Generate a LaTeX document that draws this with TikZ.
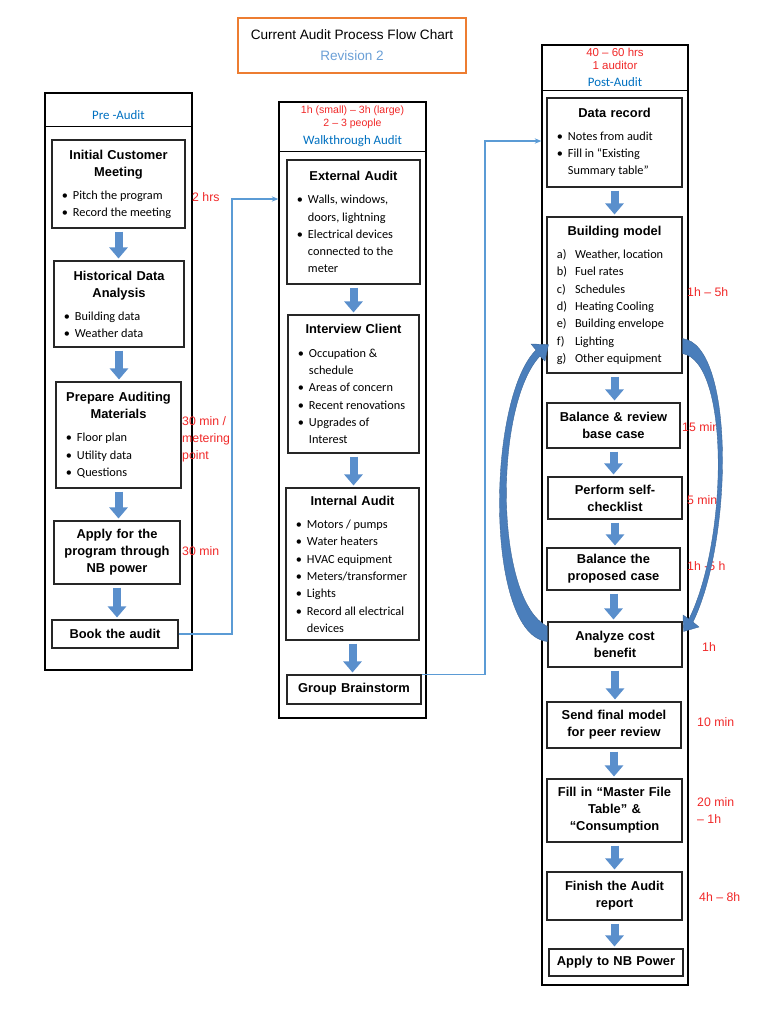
\documentclass[tikz,border=0pt]{standalone}
\usepackage{fontspec}
\setmainfont{Liberation Sans}
\newfontfamily\calib{Carlito}
\usepackage{xcolor}
\definecolor{colorTime}{HTML}{F02828}
\definecolor{colorPhase}{HTML}{0070C0}
\definecolor{colorRev}{HTML}{6A9FD6}
\definecolor{colorLink}{HTML}{5B9BD5}
\definecolor{colorBlock}{HTML}{5A8FCC}
\definecolor{colorLoop}{HTML}{4A7EBB}
\definecolor{colorTitle}{HTML}{ED7D31}
\usetikzlibrary{arrows.meta, calc}
\newcommand{\hd}[1]{{\centering\fontsize{11}{14.5}\selectfont\bfseries #1\par}}
\newcommand{\lst}{\vspace{5pt}\calib\fontsize{10.5}{14.8}\selectfont\spaceskip=\fontdimen2\font\relax\rightskip=0pt plus 1fil\relax}
\newcommand{\bul}{\makebox[14.5pt][l]{\hspace{5pt}\textbullet}}
\newcommand{\itm}[1]{\makebox[20.5pt][l]{\hspace{5pt}#1}}
\newcommand{\cont}{\hspace*{14.5pt}}
\tikzset{
  stepbox/.style={draw=black!85, line width=0.9pt, inner xsep=0.12cm, inner ysep=0pt, align=left, font=\fontsize{11}{14.5}\selectfont},
  phasecol/.style={draw, line width=1.1pt, inner sep=0pt},
  phase/.style={text=colorPhase, font=\calib\fontsize{11}{13}\selectfont, inner sep=0pt},
  effort/.style={text=colorTime, font=\fontsize{10.5}{14.5}\selectfont, inner sep=0pt, align=left},
  blockarrow/.style={line width=0.24cm, colorBlock, -{Triangle[width=0.54cm,length=0.33cm]}, shorten <=0.09cm, shorten >=0.06cm},
  link/.style={draw=colorLink, line width=0.045cm, -{Stealth[length=0.2cm,width=0.16cm]}},
  loopback/.style={fill=colorLoop, draw=colorLoop!80!black, line width=0.3pt}
}

\begin{document}
\begin{tikzpicture}[x=0.03cm, y=-0.03cm]
\useasboundingbox (0,0) rectangle (768,1024);

% title
\node[draw=colorTitle, line width=1.3pt, minimum width=6.84cm, minimum height=1.65cm, align=center, font=\fontsize{11.6}{18}\selectfont] (title) at (352,45.5) {Current Audit Process Flow Chart\\\textcolor{colorRev}{Revision 2}};

% phase columns
\node[phasecol, minimum width=4.41cm, minimum height=17.31cm] (precol) at (118.5,381.5) {};
\node[phasecol, minimum width=4.41cm, minimum height=18.48cm] (walkcol) at (352.5,410) {};
\node[phasecol, minimum width=4.38cm, minimum height=28.2cm] (postcol) at (615,515) {};
\draw[line width=1.1pt] ([yshift=-1.02cm]precol.north west) -- ([yshift=-1.02cm]precol.north east);
\draw[line width=1.1pt] ([yshift=-1.5cm]walkcol.north west) -- ([yshift=-1.5cm]walkcol.north east);
\draw[line width=1.1pt] ([yshift=-1.38cm]postcol.north west) -- ([yshift=-1.38cm]postcol.north east);
\node[phase] (prehead) at (118.5,115) {Pre -Audit};
\node[effort, font=\fontsize{9}{11}\selectfont] (walktime) at (352.5,111) {1h (small) -- 3h (large)};
\node[effort, font=\fontsize{9}{11}\selectfont] (walkpeople) at (352.5,124) {2 -- 3 people};
\node[phase] (walkhead) at (352.5,141) {Walkthrough Audit};
\node[effort, font=\fontsize{9.8}{11}\selectfont] (posttime) at (615,52) {40 -- 60 hrs};
\node[effort, font=\fontsize{9.8}{11}\selectfont] (postpeople) at (615,65) {1 auditor};
\node[phase] (posthead) at (615,82) {Post-Audit};

% pre-audit
\node[stepbox, text width=3.75cm, minimum height=2.64cm] (meet) at (118.5,184) {\hd{Initial Customer\\Meeting}\lst\bul Pitch the program\\\bul Record the meeting};
\node[stepbox, text width=3.66cm, minimum height=2.58cm] (hist) at (119,304) {\hd{Historical Data\\Analysis}\lst\bul Building data\\\bul Weather data};
\node[stepbox, text width=3.51cm, minimum height=3.18cm] (prep) at (118.5,435) {\hd{Prepare Auditing\\Materials}\lst\bul Floor plan\\\bul Utility data\\\bul Questions};
\node[stepbox, text width=3.54cm, minimum height=1.89cm] (apply) at (117,552.5) {\hd{Apply for the\\program through\\NB power}};
\node[stepbox, text width=3.54cm, minimum height=0.84cm] (book) at (115,634) {\hd{Book the audit}};

% walkthrough audit
\node[stepbox, text width=3.75cm, minimum height=3.72cm] (ext) at (353.5,222) {\hd{External Audit}\lst\bul Walls, windows,\\\cont doors, lightning\\\bul Electrical devices\\\cont connected to the\\\cont meter};
\node[stepbox, text width=3.69cm, minimum height=4.14cm] (intv) at (353.5,384) {\hd{Interview Client}\lst\bul Occupation \&\\\cont schedule\\\bul Areas of concern\\\bul Recent renovations\\\bul Upgrades of\\\cont Interest};
\node[stepbox, text width=3.75cm, minimum height=4.56cm] (inta) at (352.5,564) {\hd{Internal Audit}\lst\bul Motors / pumps\\\bul Water heaters\\\bul HVAC equipment\\\bul Meters/transformer\\\bul Lights\\\bul Record all electrical\\\cont devices};
\node[stepbox, text width=3.78cm, minimum height=0.87cm] (brain) at (354,689.5) {\hd{Group Brainstorm}};

% post-audit
\node[stepbox, text width=3.81cm, minimum height=2.67cm] (rec) at (614.5,142.5) {\hd{Data record}\lst\bul Notes from audit\\\bul Fill in “Existing\\\cont Summary table”};
\node[stepbox, text width=3.81cm, minimum height=4.68cm] (model) at (614.5,295) {\hd{Building model}\lst\itm{a)}Weather, location\\\itm{b)}Fuel rates\\\itm{c)}Schedules\\\itm{d)}Heating Cooling\\\itm{e)}Building envelope\\\itm{f)}Lighting\\\itm{g)}Other equipment};
\node[stepbox, text width=3.75cm, minimum height=1.35cm] (base) at (613.5,425.5) {\hd{Balance \& review\\base case}};
\node[stepbox, text width=3.78cm, minimum height=1.26cm] (check) at (615,498) {\hd{Perform self-\\checklist}};
\node[stepbox, text width=3.75cm, minimum height=1.26cm] (prop) at (613.5,569) {\hd{Balance the\\proposed case}};
\node[stepbox, text width=3.78cm, minimum height=1.35cm] (cost) at (615,644.5) {\hd{Analyze cost\\benefit}};
\node[stepbox, text width=3.78cm, minimum height=1.38cm] (peer) at (614,725) {\hd{Send final model\\for peer review}};
\node[stepbox, text width=3.81cm, minimum height=1.89cm] (master) at (614.5,810.5) {\hd{Fill in “Master File\\Table” \&\\“Consumption}};
\node[stepbox, text width=3.81cm, minimum height=1.44cm] (report) at (614.5,896) {\hd{Finish the Audit\\report}};
\node[stepbox, text width=3.78cm, minimum height=0.81cm] (nbp) at (616,962.5) {\hd{Apply to NB Power}};

% time estimates
\node[effort, anchor=west] (t1) at (192,197) {2 hrs};
\node[effort, anchor=north west] (t2) at (182,416) {30 min /\\metering\\point};
\node[effort, anchor=west] (t3) at (182,551) {30 min};
\node[effort, anchor=west] (t4) at (687,292) {1h -- 5h};
\node[effort, anchor=west] (t5) at (682,427) {15 min};
\node[effort, anchor=west] (t6) at (687,500) {5 min};
\node[effort, anchor=west] (t7) at (687,566) {1h -5 h};
\node[effort, anchor=west] (t8) at (702,647) {1h};
\node[effort, anchor=west] (t9) at (697,722) {10 min};
\node[effort, anchor=north west] (t10) at (697,797) {20 min\\-- 1h};
\node[effort, anchor=west] (t11) at (699,897) {4h -- 8h};

% flow inside the phases
\draw[blockarrow] (meet.south) -- (meet.south |- hist.north);
\draw[blockarrow] (hist.south) -- (hist.south |- prep.north);
\draw[blockarrow] (prep.south) -- (prep.south |- apply.north);
\draw[blockarrow] (apply.south) -- (apply.south |- book.north);
\draw[blockarrow] (ext.south) -- (ext.south |- intv.north);
\draw[blockarrow] (intv.south) -- (intv.south |- inta.north);
\draw[blockarrow] (inta.south) -- (inta.south |- brain.north);
\draw[blockarrow] (rec.south) -- (rec.south |- model.north);
\draw[blockarrow] (model.south) -- (model.south |- base.north);
\draw[blockarrow] (base.south) -- (base.south |- check.north);
\draw[blockarrow] (check.south) -- (check.south |- prop.north);
\draw[blockarrow] (prop.south) -- (prop.south |- cost.north);
\draw[blockarrow] (cost.south) -- (cost.south |- peer.north);
\draw[blockarrow] (peer.south) -- (peer.south |- master.north);
\draw[blockarrow] (master.south) -- (master.south |- report.north);
\draw[blockarrow] (report.south) -- (report.south |- nbp.north);

% hand-over between phases
\coordinate (bookjog) at (232,199);
\coordinate (brainjog) at (485,141);
\draw[link] (book.east) -| (bookjog) -- (bookjog -| walkcol.west);
\draw[link] (brain.north east) -| (brainjog) -- (brainjog -| postcol.west);

% iteration loop between model and cost benefit
\fill[loopback] ($(cost.north west)+(0,5)$) .. controls (494,600) and (494,405) .. (540,356) -- (545,361) -- ($(model.south west)+(2,-29)$) -- (531,344) -- (536,350) .. controls (486,400) and (485,636) .. ($(cost.north west)+(0,20)$) -- cycle;
\fill[loopback] ($(model.south east)+(0,-35)$) .. controls (735,345) and (733,540) .. (693,622) -- (699,627) -- ($(cost.north east)+(1,10)$) -- (683,615) -- (689,619) .. controls (728,540) and (730,362) .. ($(model.south east)+(0,-20)$) -- cycle;
\end{tikzpicture}
\end{document}
